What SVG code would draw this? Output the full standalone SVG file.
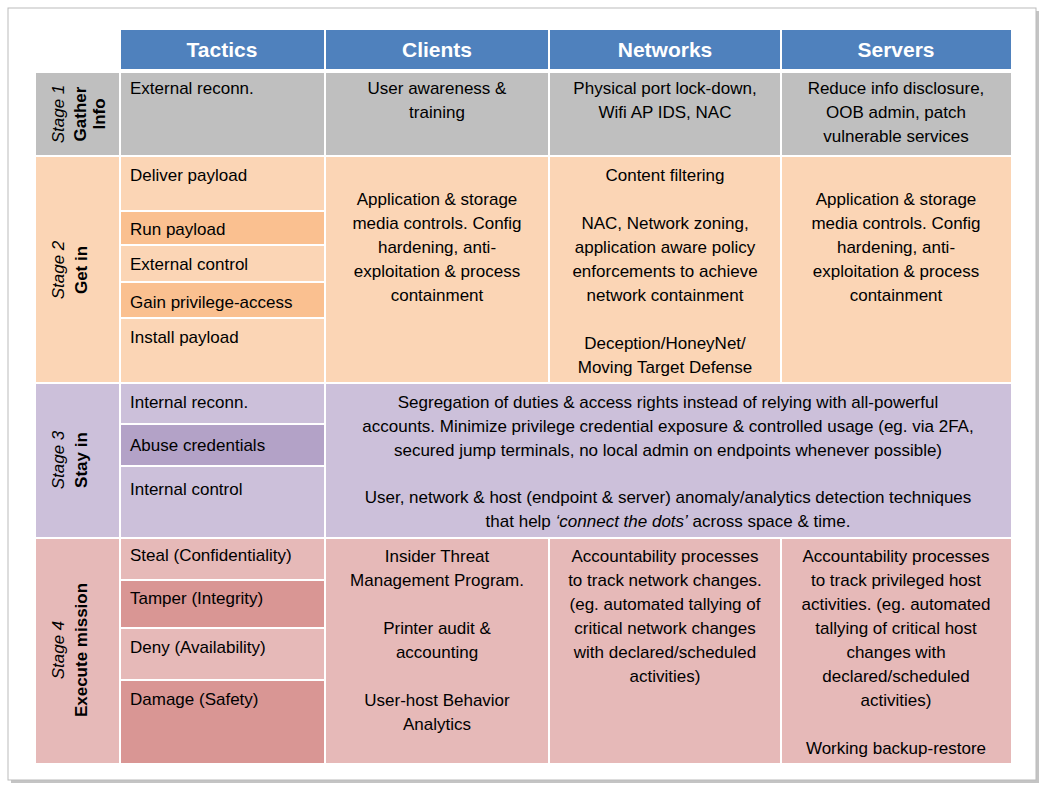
<svg xmlns="http://www.w3.org/2000/svg" width="1049" height="796" viewBox="0 0 1049 796">
<style>
text{font-family:"Liberation Sans",Arial,sans-serif;font-size:17px;fill:#000}
.h{fill:#fff;font-weight:bold;font-size:21px;text-anchor:middle}
.c{text-anchor:middle}
.s{font-weight:bold;text-anchor:middle}
.i{font-style:italic;font-weight:normal}
.g{stroke:#fff;stroke-width:2}
</style>
<rect x="0" y="0" width="1049" height="796" fill="#fff"/>
<rect x="11" y="11" width="1028" height="772" fill="#8a8a8a" opacity="0.5"/>
<rect x="8" y="8" width="1028" height="772" fill="#fff" stroke="#bbb"/>
<g id="header">
<rect class="g" x="120" y="29" width="205" height="41" fill="#4f81bd"/>
<rect class="g" x="325" y="29" width="224" height="41" fill="#4f81bd"/>
<rect class="g" x="549" y="29" width="232" height="41" fill="#4f81bd"/>
<rect class="g" x="781" y="29" width="231" height="41" fill="#4f81bd"/>
<text class="h" x="222" y="57">Tactics</text>
<text class="h" x="437" y="57">Clients</text>
<text class="h" x="665" y="57">Networks</text>
<text class="h" x="896" y="57">Servers</text>
</g>
<g id="stage1">
<rect class="g" x="35" y="72" width="977" height="84" fill="#bfbfbf"/>
<line class="g" x1="120" y1="72" x2="120" y2="156"/><line class="g" x1="325" y1="72" x2="325" y2="156"/><line class="g" x1="549" y1="72" x2="549" y2="156"/><line class="g" x1="781" y1="72" x2="781" y2="156"/>
<text class="s" transform="translate(64,114) rotate(-90)"><tspan class="i">Stage 1</tspan></text>
<text class="s" transform="translate(86,114) rotate(-90)">Gather<tspan x="0" dy="0"></tspan></text>
<text class="s" transform="translate(105,114) rotate(-90)">Info</text>
<text x="130" y="94">External reconn.</text>
<text class="c" x="437" y="94">User awareness &amp;</text><text class="c" x="437" y="118">training</text>
<text class="c" x="665" y="94">Physical port lock-down,</text><text class="c" x="665" y="118">Wifi AP IDS, NAC</text>
<text class="c" x="896" y="94">Reduce info disclosure,</text><text class="c" x="896" y="118">OOB admin, patch</text><text class="c" x="896" y="142">vulnerable services</text>
</g>
<g id="stage2">
<rect class="g" x="35" y="156" width="977" height="227" fill="#fbd5b5"/>
<rect class="g" x="120" y="211" width="205" height="34" fill="#fac090"/>
<rect class="g" x="120" y="282" width="205" height="36" fill="#fac090"/>
<line class="g" x1="120" y1="156" x2="120" y2="383"/><line class="g" x1="325" y1="156" x2="325" y2="383"/><line class="g" x1="549" y1="156" x2="549" y2="383"/><line class="g" x1="781" y1="156" x2="781" y2="383"/>
<text class="s" transform="translate(64,270) rotate(-90)"><tspan class="i">Stage 2</tspan></text>
<text class="s" transform="translate(87,270) rotate(-90)">Get in</text>
<text x="130" y="181">Deliver payload</text>
<text x="130" y="235">Run payload</text>
<text x="130" y="270">External control</text>
<text x="130" y="308">Gain privilege-access</text>
<text x="130" y="343">Install payload</text>
<text class="c" x="437" y="205">Application &amp; storage</text><text class="c" x="437" y="229">media controls. Config</text><text class="c" x="437" y="253">hardening, anti-</text><text class="c" x="437" y="277">exploitation &amp; process</text><text class="c" x="437" y="301">containment</text>
<text class="c" x="665" y="181">Content filtering</text>
<text class="c" x="665" y="229">NAC, Network zoning,</text><text class="c" x="665" y="253">application aware policy</text><text class="c" x="665" y="277">enforcements to achieve</text><text class="c" x="665" y="301">network containment</text>
<text class="c" x="665" y="349">Deception/HoneyNet/</text><text class="c" x="665" y="373">Moving Target Defense</text>
<text class="c" x="896" y="205">Application &amp; storage</text><text class="c" x="896" y="229">media controls. Config</text><text class="c" x="896" y="253">hardening, anti-</text><text class="c" x="896" y="277">exploitation &amp; process</text><text class="c" x="896" y="301">containment</text>
</g>
<g id="stage3">
<rect class="g" x="35" y="383" width="977" height="155" fill="#ccc0da"/>
<rect class="g" x="120" y="424" width="205" height="42" fill="#b3a2c7"/>
<line class="g" x1="120" y1="383" x2="120" y2="538"/><line class="g" x1="325" y1="383" x2="325" y2="538"/>
<text class="s" transform="translate(64,460) rotate(-90)"><tspan class="i">Stage 3</tspan></text>
<text class="s" transform="translate(87,460) rotate(-90)">Stay in</text>
<text x="130" y="408">Internal reconn.</text>
<text x="130" y="451">Abuse credentials</text>
<text x="130" y="495">Internal control</text>
<text class="c" x="668" y="408">Segregation of duties &amp; access rights instead of relying with all-powerful</text>
<text class="c" x="668" y="432">accounts. Minimize privilege credential exposure &amp; controlled usage (eg. via 2FA,</text>
<text class="c" x="668" y="456">secured jump terminals, no local admin on endpoints whenever possible)</text>
<text class="c" x="668" y="503">User, network &amp; host (endpoint &amp; server) anomaly/analytics detection techniques</text>
<text class="c" x="668" y="527">that help <tspan font-style="italic">‘connect the dots’</tspan> across space &amp; time.</text>
</g>
<g id="stage4">
<rect class="g" x="35" y="538" width="977" height="226" fill="#e6b9b8"/>
<rect class="g" x="120" y="580" width="205" height="48" fill="#d99694"/>
<rect class="g" x="120" y="680" width="205" height="84" fill="#d99694"/>
<line class="g" x1="120" y1="538" x2="120" y2="764"/><line class="g" x1="325" y1="538" x2="325" y2="764"/><line class="g" x1="549" y1="538" x2="549" y2="764"/><line class="g" x1="781" y1="538" x2="781" y2="764"/>
<text class="s" transform="translate(64,650) rotate(-90)"><tspan class="i">Stage 4</tspan></text>
<text class="s" transform="translate(87,650) rotate(-90)">Execute mission</text>
<text x="130" y="561">Steal (Confidentiality)</text>
<text x="130" y="604">Tamper (Integrity)</text>
<text x="130" y="653">Deny (Availability)</text>
<text x="130" y="705">Damage  (Safety)</text>
<text class="c" x="437" y="562">Insider Threat</text><text class="c" x="437" y="586">Management Program.</text>
<text class="c" x="437" y="634">Printer audit &amp;</text><text class="c" x="437" y="658">accounting</text>
<text class="c" x="437" y="706">User-host Behavior</text><text class="c" x="437" y="730">Analytics</text>
<text class="c" x="665" y="562">Accountability processes</text><text class="c" x="665" y="586">to track network changes.</text><text class="c" x="665" y="610">(eg. automated tallying of</text><text class="c" x="665" y="634">critical network changes</text><text class="c" x="665" y="658">with declared/scheduled</text><text class="c" x="665" y="682">activities)</text>
<text class="c" x="896" y="562">Accountability processes</text><text class="c" x="896" y="586">to track privileged host</text><text class="c" x="896" y="610">activities. (eg. automated</text><text class="c" x="896" y="634">tallying of critical host</text><text class="c" x="896" y="658">changes with</text><text class="c" x="896" y="682">declared/scheduled</text><text class="c" x="896" y="706">activities)</text>
<text class="c" x="896" y="754">Working backup-restore</text>
</g>
<g id="connectors"></g>
</svg>
